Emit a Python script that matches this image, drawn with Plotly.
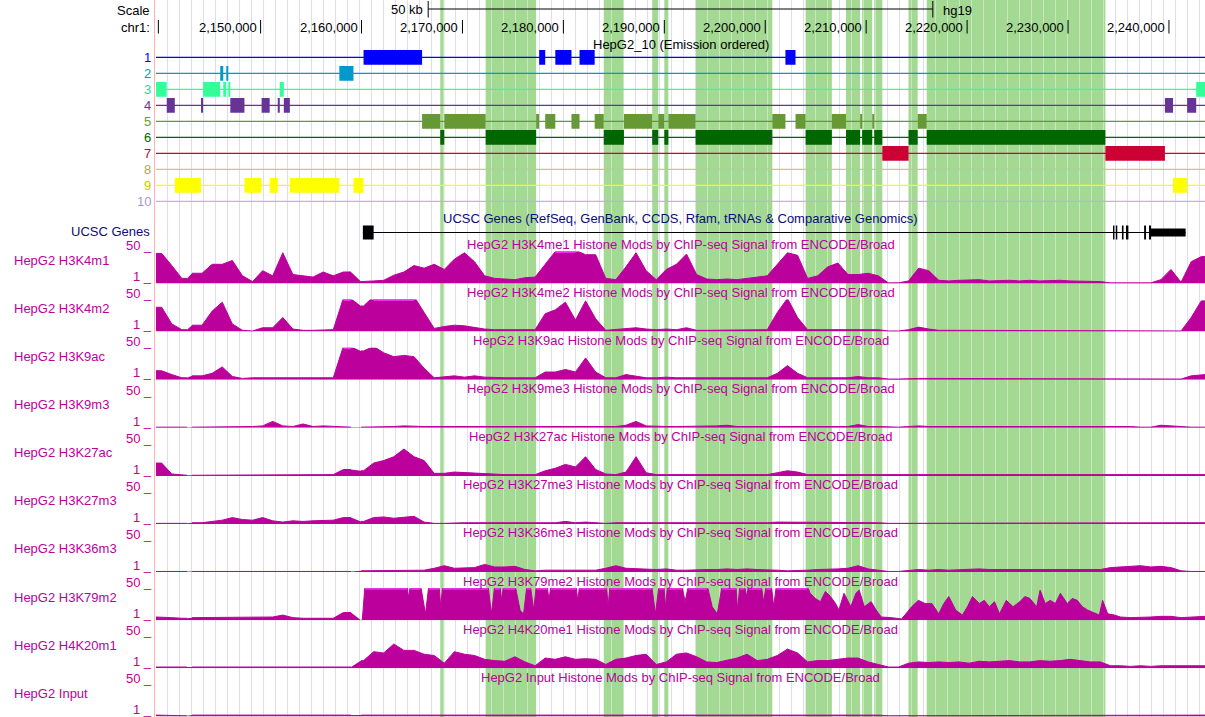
import plotly.graph_objects as go

# ----------------------------------------------------------------- data
view_start = 2139636
view_end = 2243571

ruler_ticks = [2139870, 2150000, 2160000, 2170000, 2180000, 2190000,
               2200000, 2210000, 2220000, 2230000, 2240000]
ruler_labels = ["", "2,150,000", "2,160,000", "2,170,000", "2,180,000", "2,190,000",
                "2,200,000", "2,210,000", "2,220,000", "2,230,000", "2,240,000"]
scale_bar_bp = 50000
scale_bar_label = "50 kb"
assembly = "hg19"
chrom_label = "chr1:"

state_ids = [1, 2, 3, 4, 5, 6, 7, 8, 9, 10]
state_colors = ["#0000FF", "#0099CC", "#33FF99", "#663399", "#669933",
                "#006600", "#CC0033", "#CCCC66", "#FFFF00", "#C4ACF2"]
state_label_colors = ["#0000FF", "#0099CC", "#2FD890", "#663399", "#669933",
                      "#006600", "#CC0033", "#A9A955", "#C9C900", "#A596DA"]
highlight_state = 6

# ChromHMM segments (start bp, state); each segment ends where the next begins
seg_start = [2139600, 2140700, 2141500, 2144100, 2144300, 2146000, 2146300, 2146600,
             2146800, 2147000, 2148400, 2150100, 2150900, 2151700, 2151900, 2152300,
             2152900, 2157800, 2159200, 2160200, 2166000, 2167800, 2168200, 2172300,
             2177300, 2177600, 2178200, 2179200, 2180800, 2181600, 2183100, 2184000,
             2186000, 2188800, 2189400, 2190000, 2190400, 2193100, 2200700, 2202000,
             2203000, 2204000, 2206600, 2208000, 2209400, 2209600, 2210600, 2210800,
             2211600, 2214200, 2215100, 2216000, 2233700, 2239600, 2240400, 2241800,
             2242700]
seg_state = [3, 4, 9, 4, 3, 2, 3, 2, 3, 4,
             9, 4, 9, 4, 3, 4, 9, 2, 9, 1,
             5, 6, 5, 6, 5, 1, 5, 1, 5, 1,
             5, 6, 5, 6, 5, 6, 5, 6, 5, 1,
             5, 6, 5, 6, 5, 6, 5, 6, 7, 6,
             5, 6, 7, 4, 9, 4, 3]
seg_last_end = 2243800

# UCSC gene (SKI)
gene_tx = [2160134, 2241650]
exon_start = [2160134, 2234460, 2234740, 2235340, 2235740, 2237540, 2238020, 2238220]
exon_end = [2161200, 2234600, 2234880, 2235500, 2235980, 2237730, 2238220, 2241650]
exon_thick = [True, True, True, True, True, True, True, False]

# regions without signal data
no_data_start = [2142710, 2158960]
no_data_end = [2143200, 2159950]

# signal tracks: 1 kb bins starting at bin_start
bin_start = 2139700
bin_size = 1000

track_marks = ["H3K4me1", "H3K4me2", "H3K9ac", "H3K9me3", "H3K27ac",
               "H3K27me3", "H3K36me3", "H3K79me2", "H4K20me1", "Input"]
track_short = ["HepG2 H3K4m1", "HepG2 H3K4m2", "HepG2 H3K9ac", "HepG2 H3K9m3",
               "HepG2 H3K27ac", "HepG2 H3K27m3", "HepG2 H3K36m3", "HepG2 H3K79m2",
               "HepG2 H4K20m1", "HepG2 Input"]
view_max = 50

sig_h3k4me1 = [47, 28, 8, 3, 16, 30, 30, 36, 12, 3,
               20, 12, 48, 14, 12, 10, 18, 12, 18, 2,
               3, 4, 5, 13, 18, 28, 24, 30, 22, 38,
               48, 34, 12, 8, 7, 6, 9, 10, 30, 50,
               52, 52, 45, 45, 8, 6, 26, 48, 20, 6,
               22, 30, 46, 14, 7, 6, 7, 6, 8, 10,
               12, 30, 48, 44, 8, 12, 26, 32, 14, 14,
               16, 12, 1, 1, 4, 24, 20, 5, 4, 5,
               5, 6, 4, 5, 5, 4, 5, 4, 5, 5,
               4, 4, 4, 3, 1, 1, 1, 1, 1, 6,
               22, 2, 34, 42]
sig_h3k4me2 = [38, 12, 3, 1, 10, 32, 46, 12, 2, 1,
               6, 6, 22, 4, 2, 2, 2, 3, 52, 20,
               40, 55, 55, 55, 55, 55, 30, 5, 8, 10,
               9, 6, 4, 3, 3, 3, 3, 3, 28, 34,
               46, 18, 48, 20, 2, 3, 4, 6, 4, 3,
               4, 3, 6, 2, 2, 2, 2, 2, 2, 2,
               3, 30, 52, 22, 3, 3, 3, 3, 3, 3,
               3, 3, 1, 1, 3, 7, 4, 2, 2, 2,
               2, 2, 2, 2, 2, 2, 2, 2, 2, 2,
               2, 2, 2, 2, 1, 1, 1, 1, 1, 1,
               1, 1, 22, 48]
sig_h3k9ac = [14, 8, 3, 1, 6, 10, 20, 5, 2, 3,
              3, 4, 3, 3, 3, 3, 3, 3, 52, 25,
              45, 52, 42, 36, 38, 36, 18, 3, 4, 6,
              4, 6, 4, 3, 3, 3, 3, 3, 12, 12,
              16, 12, 34, 12, 3, 3, 8, 5, 3, 3,
              4, 3, 3, 3, 3, 3, 3, 4, 3, 3,
              3, 10, 22, 10, 3, 3, 3, 3, 3, 5,
              3, 3, 1, 1, 2, 2, 2, 2, 2, 2,
              2, 2, 2, 2, 2, 2, 2, 2, 2, 2,
              2, 2, 2, 2, 1, 1, 1, 1, 1, 1,
              1, 1, 6, 8]
sig_h3k9me3 = [1, 1, 1, 1, 1, 1, 1, 1, 1, 2,
               3, 10, 3, 2, 6, 2, 3, 2, 1, 1,
               1, 2, 2, 2, 3, 2, 2, 2, 2, 2,
               2, 2, 2, 3, 2, 2, 2, 2, 2, 2,
               3, 2, 2, 2, 2, 2, 4, 10, 3, 2,
               2, 2, 2, 2, 2, 3, 4, 2, 2, 2,
               2, 2, 2, 2, 2, 2, 2, 3, 2, 5,
               2, 2, 1, 1, 2, 3, 2, 2, 2, 2,
               2, 2, 3, 2, 2, 3, 2, 2, 2, 2,
               2, 2, 2, 2, 2, 2, 2, 1, 1, 4,
               3, 1, 1, 1]
sig_h3k27ac = [20, 3, 1, 1, 1, 2, 1, 1, 1, 1,
               1, 2, 1, 1, 1, 1, 1, 2, 10, 20,
               8, 20, 24, 30, 42, 30, 24, 4, 4, 6,
               5, 4, 3, 2, 2, 2, 2, 2, 8, 12,
               18, 14, 30, 10, 3, 2, 6, 30, 5, 2,
               2, 2, 2, 2, 2, 2, 2, 2, 2, 2,
               2, 5, 8, 6, 2, 2, 2, 2, 2, 2,
               2, 2, 1, 1, 1, 2, 1, 2, 1, 2,
               1, 2, 2, 1, 2, 2, 2, 2, 1, 2,
               2, 2, 1, 2, 1, 1, 1, 1, 1, 2,
               2, 1, 2, 2]
sig_h3k27me3 = [1, 1, 1, 1, 2, 4, 6, 10, 7, 6,
                10, 5, 3, 5, 4, 5, 5, 6, 10, 3,
                4, 10, 11, 9, 11, 12, 3, 1, 1, 2,
                2, 2, 2, 2, 2, 2, 2, 1, 2, 2,
                4, 2, 3, 2, 1, 2, 2, 2, 1, 1,
                2, 2, 2, 2, 2, 2, 2, 2, 2, 2,
                2, 3, 3, 2, 2, 2, 2, 2, 2, 2,
                2, 2, 1, 1, 1, 2, 2, 1, 2, 2,
                2, 2, 2, 2, 2, 2, 2, 2, 2, 2,
                2, 2, 2, 2, 1, 2, 1, 2, 1, 2,
                2, 1, 2, 2]
sig_h3k36me3 = [1, 1, 1, 1, 1, 1, 1, 1, 1, 1,
                1, 1, 1, 1, 1, 1, 1, 1, 1, 1,
                2, 2, 2, 2, 2, 2, 3, 6, 10, 6,
                6, 7, 12, 8, 8, 9, 4, 2, 3, 3,
                3, 3, 3, 3, 6, 10, 6, 5, 5, 4,
                5, 3, 3, 4, 4, 4, 5, 4, 5, 4,
                4, 3, 2, 2, 3, 4, 4, 5, 6, 10,
                5, 3, 1, 1, 3, 4, 3, 4, 3, 4,
                4, 5, 4, 4, 5, 4, 5, 4, 5, 4,
                4, 4, 4, 4, 7, 8, 9, 10, 8, 9,
                7, 2, 1, 1]
# H3K79me2 is read as breakpoints (position bp, value) because of its narrow dips
k79_pos = [2140200, 2141200, 2142200, 2143200, 2144200, 2145200, 2146200, 2147200,
           2148200, 2149200, 2150200, 2151200, 2152200, 2153200, 2154200, 2155200,
           2156200, 2157200, 2158200, 2159135,
           2160077, 2160344, 2164505, 2164664, 2164832, 2165843, 2166338, 2166675,
           2167676, 2167845, 2168052, 2172531, 2172868, 2173205, 2173710, 2173878,
           2174076, 2175216, 2175721, 2176058, 2176395, 2176722, 2177059, 2177326,
           2178396, 2178565, 2178773, 2181250, 2181418, 2181617, 2184262, 2184430,
           2184628, 2188750, 2189117, 2189483, 2189959, 2190117, 2190326, 2191732,
           2192059, 2192396, 2194239, 2194745, 2195250, 2195745, 2197093, 2197251,
           2197489, 2197925, 2198163, 2198361, 2199600, 2199837, 2200105, 2200601,
           2200838, 2201106, 2204118, 2204455, 2204960, 2205465, 2205960, 2206466,
           2206971, 2207298, 2207803, 2208140, 2208477, 2208982, 2209309, 2209814,
           2210488, 2210984, 2211489, 2212500, 2213501, 2213837, 2214501, 2215175,
           2215849, 2216513, 2217186, 2217692, 2218187, 2218861, 2219534, 2220030,
           2220535, 2221209, 2221705, 2222209, 2222715, 2223211, 2223884, 2224558,
           2225222, 2225727, 2226222, 2226896, 2227233, 2227738, 2228244, 2228739,
           2229244, 2229918, 2230413, 2230919, 2231424, 2231920, 2232593, 2233098,
           2233425, 2233931, 2234604,
           2235200, 2236200, 2237200, 2238200, 2239200, 2240200, 2241200, 2242200,
           2243200]
k79_val = [5, 4, 3, 2, 4, 5, 4, 5,
           4, 4, 5, 5, 8, 4, 3, 3,
           3, 3, 12, 10,
           0, 55, 55, 35, 55, 55, 10, 55,
           55, 21, 55, 55, 10, 55, 55, 31,
           55, 55, 15, 10, 55, 55, 16, 55,
           55, 31, 55, 55, 31, 55, 55, 21,
           55, 55, 10, 55, 55, 21, 55, 55,
           29, 55, 55, 21, 10, 55, 55, 16,
           55, 55, 37, 55, 55, 29, 55, 55,
           21, 55, 55, 42, 34, 29, 45, 37,
           26, 16, 42, 32, 21, 42, 47, 21,
           29, 16, 5, 4, 2, 8, 21, 31,
           26, 26, 10, 26, 37, 16, 8, 21,
           37, 26, 31, 21, 29, 10, 31, 21,
           29, 37, 34, 21, 47, 26, 31, 26,
           42, 26, 34, 31, 21, 16, 12, 8,
           31, 10, 8,
           5, 4, 4, 5, 6, 6, 4, 5,
           6]
sig_h4k20me1 = [2, 2, 2, 2, 2, 2, 2, 2, 2, 2,
                2, 2, 2, 2, 2, 2, 2, 2, 2, 1,
                12, 26, 24, 38, 28, 28, 22, 20, 8, 26,
                22, 20, 14, 12, 11, 18, 10, 4, 16, 14,
                18, 14, 15, 14, 6, 14, 16, 20, 22, 6,
                10, 22, 24, 18, 10, 9, 12, 16, 22, 12,
                14, 20, 30, 24, 10, 12, 12, 14, 16, 16,
                10, 6, 2, 2, 8, 10, 9, 10, 9, 10,
                8, 11, 10, 11, 12, 10, 10, 12, 11, 12,
                14, 12, 10, 10, 4, 4, 3, 4, 3, 4,
                4, 3, 4, 4]
sig_input = [2, 2, 1, 2, 2, 2, 1, 2, 2, 2,
             2, 2, 2, 1, 2, 2, 2, 2, 2, 1,
             2, 2, 2, 2, 3, 2, 2, 2, 2, 2,
             2, 2, 2, 2, 2, 2, 2, 2, 2, 2,
             2, 2, 2, 2, 2, 2, 2, 2, 2, 2,
             2, 2, 2, 2, 2, 2, 2, 2, 2, 2,
             2, 2, 2, 2, 2, 2, 2, 2, 2, 2,
             2, 2, 1, 1, 2, 2, 2, 2, 2, 2,
             2, 2, 2, 2, 2, 2, 2, 2, 2, 2,
             2, 2, 2, 2, 1, 2, 1, 2, 1, 2,
             1, 2, 1, 2]

# ----------------------------------------------------------------- style
W, H = 1205, 717
FONT = "Liberation Sans, Arial, Helvetica, sans-serif"
FS = 13
DATA_LEFT_PX = 156
SIG_COLOR = "#BC009C"
CLIP_COLOR = "#F22CF0"
GENE_COLOR = "#0C0C78"
HL_COLOR = "#A3D993"
GUIDE_OUT = "#DCDCFF"
GUIDE_IN = "#C6E8BC"
TRACK_TOP0 = 251.5
TRACK_PITCH = 48.1
TRACK_H = 32.0


def fx(px):
    return px / W


def fy(py):
    return 1 - py / H


bp_per_px = (view_end - view_start) / (W - DATA_LEFT_PX)
seg_end = seg_start[1:] + [seg_last_end]
centers = [bin_start + bin_size * (i + 0.5) for i in range(len(sig_h3k4me1))]

track_series = [
    (centers, sig_h3k4me1), (centers, sig_h3k4me2), (centers, sig_h3k9ac),
    (centers, sig_h3k9me3), (centers, sig_h3k27ac), (centers, sig_h3k27me3),
    (centers, sig_h3k36me3), (k79_pos, k79_val), (centers, sig_h4k20me1),
    (centers, sig_input),
]


def with_gaps(pos, vals):
    xs = [view_start] + list(pos) + [view_end]
    ys = [vals[0]] + list(vals) + [vals[-1]]
    for g0, g1 in zip(no_data_start, no_data_end):
        before = [(x, y) for x, y in zip(xs, ys) if x < g0]
        after = [(x, y) for x, y in zip(xs, ys) if x > g1]
        xs = [p[0] for p in before] + [g0, g0, g1, g1] + [p[0] for p in after]
        ys = ([p[1] for p in before] + [before[-1][1], None, None, after[0][1]]
              + [p[1] for p in after])
    return xs, ys


fig = go.Figure()

# ---- emission state blocks
fig.add_trace(go.Bar(
    orientation="h",
    base=seg_start,
    x=[e - s for s, e in zip(seg_start, seg_end)],
    y=seg_state,
    width=0.92,
    marker=dict(color=[state_colors[s - 1] for s in seg_state], line=dict(width=0)),
    xaxis="x", yaxis="y", hoverinfo="skip",
))

# ---- gene
fig.add_trace(go.Scatter(
    x=gene_tx, y=[0, 0], mode="lines", line=dict(color="black", width=1),
    xaxis="x", yaxis="y2", hoverinfo="skip",
))
fig.add_trace(go.Bar(
    orientation="h",
    base=exon_start,
    x=[e - s for s, e in zip(exon_start, exon_end)],
    y=[0] * len(exon_start),
    width=[1.75 if t else 1.0 for t in exon_thick],
    marker=dict(color="black", line=dict(width=0)),
    xaxis="x", yaxis="y2", hoverinfo="skip",
))

# ---- signal tracks
for k, (pos, vals) in enumerate(track_series):
    yax = "y%d" % (k + 3)
    xs, ys = with_gaps(pos, vals)
    fig.add_trace(go.Scatter(
        x=xs, y=ys, mode="lines", line=dict(color=SIG_COLOR, width=1),
        fill="tozeroy", fillcolor=SIG_COLOR, connectgaps=False,
        xaxis="x", yaxis=yax, hoverinfo="skip",
    ))
    clip = [view_max if (v is not None and v >= view_max) else None for v in ys]
    fig.add_trace(go.Scatter(
        x=xs, y=clip, mode="lines", line=dict(color=CLIP_COLOR, width=3),
        connectgaps=False, xaxis="x", yaxis=yax, hoverinfo="skip",
    ))

# ---- shapes
shapes = []
hl_regions = [(s, e) for s, e, st in zip(seg_start, seg_end, seg_state) if st == highlight_state]
for s, e in hl_regions:
    shapes.append(dict(type="rect", xref="x", yref="paper", x0=s, x1=e, y0=0, y1=1,
                       fillcolor=HL_COLOR, line=dict(width=0), layer="below"))

gpx = 167.5
while gpx < W:
    g = view_start + (gpx - DATA_LEFT_PX) * bp_per_px
    inside = any(s <= g <= e for s, e in hl_regions)
    shapes.append(dict(type="line", xref="x", yref="paper", x0=g, x1=g, y0=0, y1=1,
                       line=dict(color=GUIDE_IN if inside else GUIDE_OUT, width=1),
                       layer="below"))
    gpx += 12

for s in state_ids:
    shapes.append(dict(type="line", xref="x domain", yref="y", x0=0, x1=1, y0=s, y1=s,
                       line=dict(color=state_colors[s - 1], width=1.2), layer="below"))

shapes.append(dict(type="line", xref="paper", yref="paper", x0=fx(154.5), x1=fx(154.5),
                   y0=0, y1=1, line=dict(color="#FFB0B0", width=1)))

for t in ruler_ticks:
    shapes.append(dict(type="line", xref="x", yref="paper", x0=t, x1=t,
                       y0=fy(33.5), y1=fy(20), line=dict(color="black", width=1)))

center = (view_start + view_end) / 2
sb0, sb1 = center - scale_bar_bp / 2, center + scale_bar_bp / 2
shapes.append(dict(type="line", xref="x", yref="paper", x0=sb0, x1=sb1,
                   y0=fy(9), y1=fy(9), line=dict(color="black", width=1)))
for t in (sb0, sb1):
    shapes.append(dict(type="line", xref="x", yref="paper", x0=t, x1=t,
                       y0=fy(17.5), y1=fy(1), line=dict(color="black", width=1)))

# ---- annotations
ann = []


def text(x, y, s, color="black", xanchor="center", xref="paper", yref="paper", xshift=0, size=FS):
    ann.append(dict(x=x, y=y, text=s, xref=xref, yref=yref, xanchor=xanchor,
                    yanchor="middle", showarrow=False, xshift=xshift,
                    font=dict(family=FONT, size=size, color=color)))


text(fx(152), fy(10.5), "Scale", xanchor="right")
text(fx(152), fy(27.3), chrom_label, xanchor="right")
for t, lab in zip(ruler_ticks, ruler_labels):
    if lab:
        text(t, fy(27.3), lab, xanchor="right", xref="x", xshift=-2)
text(sb0, fy(9.5), scale_bar_label, xanchor="right", xref="x", xshift=-3)
text(sb1, fy(10.5), assembly, xanchor="left", xref="x", xshift=8)

text(fx(680.5), fy(44), "HepG2_10 (Emission ordered)")
for s in state_ids:
    text(fx(153), s, str(s), color=state_label_colors[s - 1], xanchor="right", yref="y")

text(fx(680.5), fy(218.3),
     "UCSC Genes (RefSeq, GenBank, CCDS, Rfam, tRNAs &amp; Comparative Genomics)",
     color=GENE_COLOR)
text(fx(152), fy(231.7), "UCSC Genes", color=GENE_COLOR, xanchor="right")

for k in range(len(track_series)):
    off = TRACK_PITCH * k
    text(fx(680.5), fy(244.3 + off),
         "HepG2 %s Histone Mods by ChIP-seq Signal from ENCODE/Broad" % track_marks[k],
         color=SIG_COLOR)
    text(fx(12), fy(260.3 + off), track_short[k], color=SIG_COLOR, xanchor="left")
    text(fx(154), fy(245.7 + off), "%d _" % view_max, color=SIG_COLOR, xanchor="right")
    text(fx(154), fy(276.7 + off), "1 _", color=SIG_COLOR, xanchor="right")

# ---- layout
layout = dict(
    width=W, height=H, margin=dict(l=0, r=0, t=0, b=0),
    paper_bgcolor="white", plot_bgcolor="rgba(0,0,0,0)",
    showlegend=False, hovermode=False, barmode="overlay",
    xaxis=dict(domain=[fx(DATA_LEFT_PX), 1], range=[view_start, view_end],
               visible=False, fixedrange=True),
    yaxis=dict(domain=[fy(209.3), fy(49.3)], range=[10.5, 0.5], visible=False,
               anchor="x", fixedrange=True),
    yaxis2=dict(domain=[fy(240.5), fy(224.5)], range=[-1, 1], visible=False,
                anchor="x", fixedrange=True),
    shapes=shapes, annotations=ann,
)
for k in range(len(track_series)):
    top = TRACK_TOP0 + TRACK_PITCH * k
    layout["yaxis%d" % (k + 3)] = dict(domain=[fy(top + TRACK_H), fy(top)],
                                       range=[0, view_max], visible=False,
                                       anchor="x", fixedrange=True)
fig.update_layout(**layout)

fig.write_html("out.html", config={"displayModeBar": False, "staticPlot": True},
               post_script="document.body.style.margin='0';document.body.style.overflow='hidden';")
